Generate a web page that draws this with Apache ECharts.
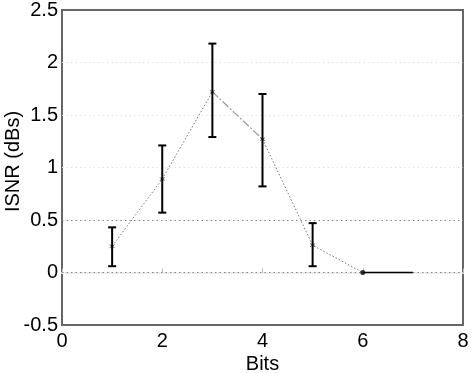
<!DOCTYPE html>
<html><head><meta charset="utf-8">
<script src="https://cdn.jsdelivr.net/npm/echarts@6/dist/echarts.min.js"></script>
<style>html,body{margin:0;padding:0;background:#fff}#c{width:474px;height:373px}</style>
</head><body><div id="c"></div>
<script>
var bits = [1, 2, 3, 4, 5, 6, 7];
var isnr = [0.25, 0.89, 1.72, 1.27, 0.26, 0, 0];
var errLow = [0.06, 0.57, 1.29, 0.82, 0.06];
var errHigh = [0.43, 1.21, 2.18, 1.70, 0.47];
var xTicks = [0, 2, 4, 6, 8];
var yTicks = [-0.5, 0, 0.5, 1, 1.5, 2, 2.5];
var gridDark = [0, 0.5];
var gridLight = [1, 1.5, 2];

function seg(a, b) {
  var out = [];
  for (var i = a; i <= b; i++) out.push([bits[i], isnr[i]]);
  return out;
}
var errData = errLow.map(function (lo, i) { return [bits[i], lo, errHigh[i]]; });
function gridMarks(vals, color) {
  return {
    silent: true, symbol: 'none', label: {show: false}, z: 1,
    lineStyle: {type: [1.5, 3], width: 1, color: color},
    data: vals.map(function (v) { return {yAxis: v}; })
  };
}

var chart = echarts.init(document.getElementById('c'), null, {renderer: 'canvas'});
var font = 'Liberation Sans, Arial, sans-serif';
chart.setOption({
  animation: false,
  backgroundColor: '#fff',
  grid: {left: 62, right: 11, top: 10, bottom: 48, containLabel: false, outerBoundsMode: 'none',
    show: true, borderColor: '#666', borderWidth: 2, backgroundColor: 'transparent'},
  xAxis: {
    type: 'value', min: xTicks[0], max: xTicks[xTicks.length - 1], interval: 2,
    name: 'Bits', nameLocation: 'middle', nameGap: 29, nameMoveOverlap: false,
    nameTextStyle: {fontFamily: font, fontSize: 20, color: '#000'},
    axisLine: {show: true, lineStyle: {color: '#eee', width: 2}},
    axisTick: {show: true, inside: true, length: 4, lineStyle: {color: '#bbb'}},
    axisLabel: {fontFamily: font, fontSize: 20, color: '#000', margin: 6},
    splitLine: {show: false}
  },
  yAxis: {
    type: 'value', min: yTicks[0], max: yTicks[yTicks.length - 1], interval: 0.5,
    name: 'ISNR (dBs)', nameLocation: 'middle', nameGap: 39, nameMoveOverlap: false,
    nameTextStyle: {fontFamily: font, fontSize: 20, color: '#000', padding: [0, 0, 0, 12]},
    axisLine: {show: true, lineStyle: {color: '#666', width: 2}},
    axisTick: {show: false},
    axisLabel: {fontFamily: font, fontSize: 20, color: '#000', margin: 4},
    splitLine: {show: false}
  },
  series: [
    {type: 'line', data: [], z: 1, markLine: gridMarks(gridDark, '#888')},
    {type: 'line', data: [], z: 1, markLine: gridMarks(gridLight, '#e2e2e2')},
    {type: 'line', data: seg(0, 2), symbol: 'none', lineStyle: {color: '#777', width: 1, type: [1.5, 2]}, z: 3},
    {type: 'line', data: seg(2, 3), symbol: 'none', lineStyle: {color: '#999', width: 1.2, type: [8, 2, 2, 2]}, z: 3},
    {type: 'line', data: seg(3, 5), symbol: 'none', lineStyle: {color: '#777', width: 1, type: [1.5, 2]}, z: 3},
    {type: 'line', data: seg(5, 6), symbol: 'none', lineStyle: {color: '#000', width: 1.5, type: 'solid'}, z: 6},
    {type: 'scatter', data: seg(0, 4), symbol: 'path://M0,-5L0,5M-4,-3L4,3M-4,3L4,-3', symbolSize: 5,
      itemStyle: {color: 'none', borderColor: '#444', borderWidth: 1}, z: 4},
    {type: 'scatter', data: seg(5, 5), symbol: 'circle', symbolSize: 5, itemStyle: {color: '#000'}, z: 6},
    {type: 'custom', data: errData, z: 5,
      renderItem: function (params, api) {
        var x = api.value(0);
        var lo = api.coord([x, api.value(1)]);
        var hi = api.coord([x, api.value(2)]);
        var w = 4;
        var st = {stroke: '#000', lineWidth: 2};
        return {type: 'group', children: [
          {type: 'line', shape: {x1: lo[0], y1: lo[1], x2: hi[0], y2: hi[1]}, style: st},
          {type: 'line', shape: {x1: lo[0] - w, y1: lo[1], x2: lo[0] + w, y2: lo[1]}, style: st},
          {type: 'line', shape: {x1: hi[0] - w, y1: hi[1], x2: hi[0] + w, y2: hi[1]}, style: st}
        ]};
      }}
  ]
});
</script></body></html>
